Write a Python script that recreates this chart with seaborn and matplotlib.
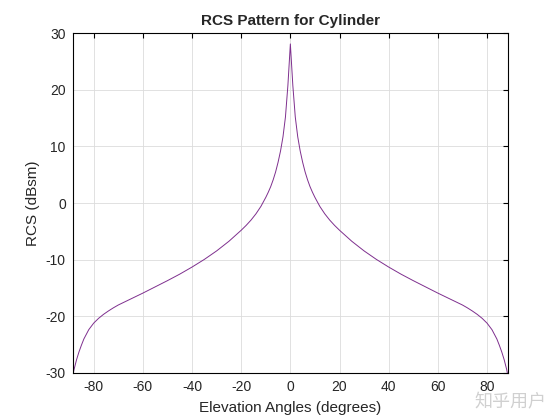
import matplotlib
matplotlib.use("Agg")
import matplotlib.pyplot as plt
import seaborn as sns
import pandas as pd

# elevation angle (deg) and RCS (dBsm)
angles = [-88.5, -88, -87, -86, -85, -84, -82, -80, -78, -76, -74, -72, -70,
          -65, -60, -55, -50, -45, -40, -35, -30, -25, -20, -18, -16, -14,
          -12, -10, -9, -8, -7, -6, -5, -4, -3, -2, -1, 0,
          1, 2, 3, 4, 5, 6, 7, 8, 9, 10, 12, 14, 16, 18, 20, 25, 30, 35,
          40, 45, 50, 55, 60, 65, 70, 72, 74, 76, 78, 80, 82, 84, 85, 86,
          87, 88, 88.5]
rcs_db = [-30.5, -29.4, -27.7, -26.3, -25.1, -24.0, -22.35, -21.2, -20.35,
          -19.65, -19.05, -18.5, -18.0, -16.95, -15.9, -14.8, -13.7, -12.55,
          -11.3, -9.95, -8.45, -6.75, -4.8, -3.95, -3.0, -1.9, -0.6, 1.0,
          1.9, 2.9, 4.1, 5.5, 7.2, 9.2, 11.7, 15.2, 20.8, 28.1,
          20.8, 15.2, 11.7, 9.2, 7.2, 5.5, 4.1, 2.9, 1.9, 1.0, -0.6, -1.9,
          -3.0, -3.95, -4.8, -6.75, -8.45, -9.95, -11.3, -12.55, -13.7, -14.8,
          -15.9, -16.95, -18.0, -18.5, -19.05, -19.65, -20.35, -21.2, -22.35,
          -24.0, -25.1, -26.3, -27.7, -29.4, -30.5]

x_ticks = [-80, -60, -40, -20, 0, 20, 40, 60, 80]
y_ticks = [-30, -20, -10, 0, 10, 20, 30]

df = pd.DataFrame({"angle": angles, "rcs": rcs_db})

sns.set_style("white")
plt.rcParams["font.family"] = ["Liberation Sans", "DejaVu Sans"]
plt.rcParams["axes.unicode_minus"] = False

fig = plt.figure(figsize=(5.6, 4.2), dpi=100)
ax = fig.add_axes([0.13, 0.112, 0.777, 0.809])

sns.lineplot(data=df, x="angle", y="rcs", sort=False, estimator=None,
             color="#7E2F8E", linewidth=0.7, ax=ax)

ax.set_xlim(-88.5, 88.5)
ax.set_ylim(-30, 30)
ax.set_xticks(x_ticks)
ax.set_yticks(y_ticks)
ax.grid(True, color="#dcdcdc", linewidth=0.6)
ax.set_axisbelow(True)
for s in ax.spines.values():
    s.set_color("black")
    s.set_linewidth(0.8)
ax.tick_params(direction="in", length=3.5, width=0.8, top=True, right=True,
               labelsize=10, colors="black", labelcolor="#262626", pad=5)

ax.set_title("RCS Pattern for Cylinder", fontsize=11, fontweight="bold", pad=6)
ax.set_xlabel("Elevation Angles (degrees)", fontsize=11, color="#262626", labelpad=5)
ax.set_ylabel("RCS (dBsm)", fontsize=11, color="#262626", labelpad=4)

fig.text(0.975, 0.043, "知乎用户", ha="right", va="center", fontsize=13,
         color="#d0d0d0", family=["Noto Sans CJK SC", "DejaVu Sans"])

fig.savefig("out.png", dpi=100, facecolor="white")
